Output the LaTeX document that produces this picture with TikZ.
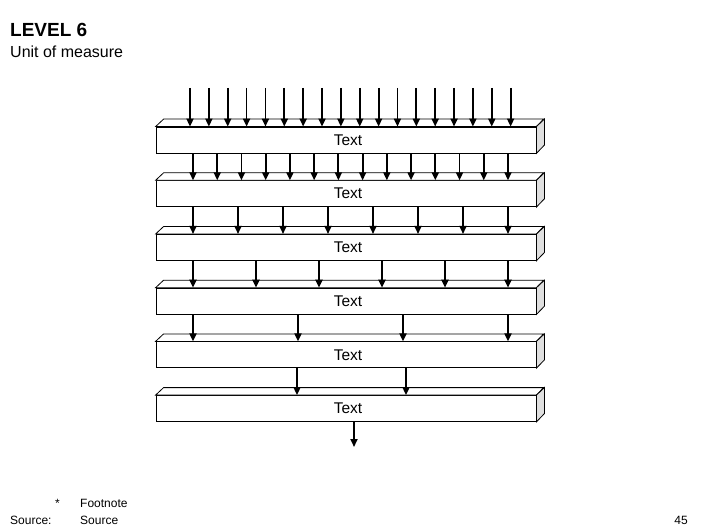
\documentclass[tikz,border=0pt]{standalone}
\usepackage{fontspec}
\setmainfont{Liberation Sans}
\usetikzlibrary{arrows.meta}

\begin{document}
\begin{tikzpicture}[
    x=1pt, y=-1pt,
    bar/.style={draw, line width=0.8pt, fill=white, minimum width=380pt, minimum height=26pt, inner sep=0pt, font=\fontsize{15.5}{17}\selectfont},
    side/.style={draw, line width=0.8pt, fill=gray!25},
    lid/.style={draw, line width=0.8pt, fill=white},
    flow/.style={-{Triangle[length=8pt,width=7pt]}, line width=1.8pt},
    small/.style={font=\fontsize{12}{14}\selectfont, inner sep=0pt, anchor=base west}
]
\useasboundingbox (0,0) rectangle (706,529);

% Title
\node[anchor=base west, inner sep=0pt, font=\fontsize{19}{21}\selectfont\bfseries] (title) at (10,36.5) {LEVEL 6};
\node[anchor=base west, inner sep=0pt, font=\fontsize{16}{18}\selectfont] (unit) at (10,57.5) {Unit of measure};

% Bars
\foreach \i/\y in {1/140, 2/193.7, 3/247.4, 4/301.1, 5/354.8, 6/408.5}
  \node[bar] (b\i) at (346,\y) {\hspace*{4pt}Text};
\foreach \i in {1,...,6} {
  \draw[lid] (b\i.north west) -- ++(8,-7.5) -- ++(380,0) -- (b\i.north east) -- cycle;
  \draw[side] (b\i.north east) -- ++(8,-7.5) -- ++(0,26) -- (b\i.south east) -- cycle;
}

% Inputs
\foreach \n in {0,...,17} {
  \coordinate (t\n) at ({190+18.86*\n},88);
  \draw[flow] (t\n) -- (t\n |- b1.north);
}

% Between bars
\foreach \a/\b/\k/\s in {1/2/13/24.23, 2/3/7/45, 3/4/5/63, 4/5/3/105}
  \foreach \n in {0,...,\k}
    \draw[flow] ({193+\s*\n},0 |- b\a.south) -- ({193+\s*\n},0 |- b\b.north);
\foreach \x in {297,406}
  \draw[flow] (\x,0 |- b5.south) -- (\x,0 |- b6.north);

% Output
\coordinate (out) at (354,447);
\draw[flow] (out |- b6.south) -- (out);

% Footer
\node[small] (star) at (55,507) {*};
\node[small] (fn) at (80,507) {Footnote};
\node[small] (srcl) at (10,524.5) {Source:};
\node[small] (src) at (80,524.5) {Source};
\node[small, anchor=base east] (page) at (688,524.5) {45};
\end{tikzpicture}
\end{document}
